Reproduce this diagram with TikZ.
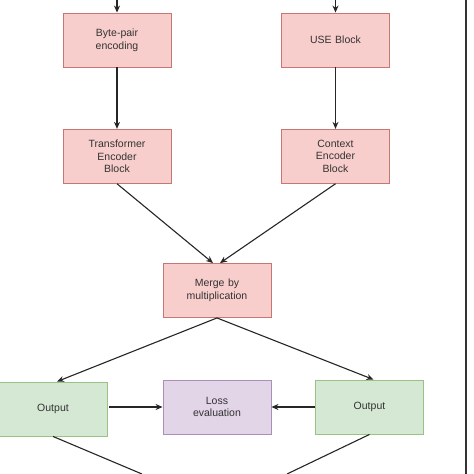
\documentclass[tikz,border=0pt]{standalone}
\usepackage{fontspec}
\setmainfont{Liberation Sans}
\usepackage{tikz}
\usetikzlibrary{arrows.meta}
\definecolor{blockred}{RGB}{248, 206, 204}
\definecolor{blockredline}{RGB}{184, 84, 80}
\definecolor{outgreen}{RGB}{213, 232, 212}
\definecolor{outgreenline}{RGB}{130, 179, 102}
\definecolor{losspurple}{RGB}{225, 213, 231}
\definecolor{losspurpleline}{RGB}{150, 115, 166}
\definecolor{labelgrey}{RGB}{51, 51, 51}

\begin{document}
\begin{tikzpicture}[x=1pt, y=-1pt,
    blk/.style={rectangle, minimum width=108pt, minimum height=54pt,
      inner sep=2pt, align=center, text width=100pt, line width=0.9pt,
      text=labelgrey, font=\fontsize{10.5}{12.8}\selectfont},
    encblk/.style={blk, fill=blockred, draw=blockredline!80},
    outblk/.style={blk, fill=outgreen, draw=outgreenline!80},
    lossblk/.style={blk, fill=losspurple, draw=losspurpleline!80},
    arr/.style={-{Stealth[length=7pt, width=6pt]}, line width=1.1pt, black!85}]

\useasboundingbox[fill=white] (0,0) rectangle (474,474);

%% ── Encoding branches ──────────────────────────────────────────────────
\node[encblk] (bpe) at (117,40) {Byte-pair\\encoding};
\node[encblk] (use) at (335.5,40) {USE Block};
\node[encblk] (tenc) at (117,156.3) {Transformer\\Encoder\\Block};
\node[encblk] (cenc) at (335.5,156.3) {Context\\Encoder\\Block};

% incoming arrows from above the crop
\coordinate (inl) at (117,0);
\coordinate (inr) at (335.5,0);
\draw[arr] (inl) -- (bpe.north);
\draw[arr] (inr) -- (use.north);
\draw[arr] (bpe) -- (tenc);
\draw[arr] (use) -- (cenc);

%% ── Merge ──────────────────────────────────────────────────────────────
\node[encblk] (merge) at (217,290.5) {Merge by\\multiplication};
\draw[arr] (tenc.south) -- ([xshift=-4pt]merge.north);
\draw[arr] (cenc.south) -- ([xshift=3pt]merge.north);

%% ── Outputs and loss ───────────────────────────────────────────────────
\node[outblk] (outl) at (53,409) {Output};
\node[lossblk] (loss) at (217,407) {Loss\\evaluation};
\node[outblk] (outr) at (369.5,407) {Output};

\draw[arr] (merge.south) -- ([xshift=4pt]outl.north);
\draw[arr] (merge.south) -- ([xshift=4pt]outr.north);
\draw[arr, shorten <=2pt] (outl.east |- loss.west) -- (loss.west);
\draw[arr] (outr.west) -- (loss.east);

% lines leaving below the crop
\coordinate (outl-end) at (142,474);
\coordinate (outr-end) at (287,474);
\draw[line width=1.1pt, black!85] (outl.south) -- (outl-end);
\draw[line width=1.1pt, black!85] (outr.south) -- (outr-end);

% right edge of the crop
\draw[line width=1.2pt, black!80] (466,0) -- (466,474);

\end{tikzpicture}
\end{document}
